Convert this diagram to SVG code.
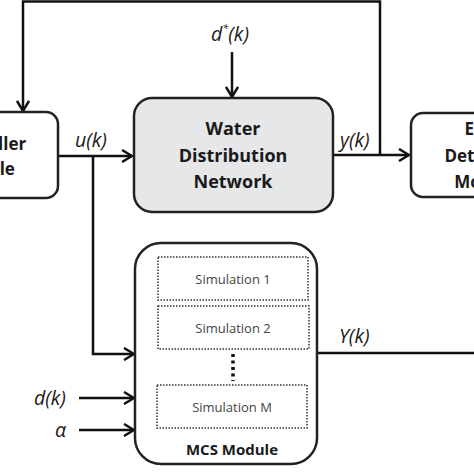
<svg xmlns="http://www.w3.org/2000/svg" width="474" height="474" viewBox="0 0 474 474">
<style>
.box{fill:#fff;stroke:#222;stroke-width:2.5}
.gray{fill:#e6e7e8}
.ln{fill:none;stroke:#111;stroke-width:2.5}
.bt{font-family:"Open Sans","Liberation Sans",sans-serif;font-weight:bold;fill:#1a1a1a;text-anchor:middle}
.it{font-family:"Open Sans","Liberation Sans",sans-serif;font-style:italic;fill:#1a1a1a;font-size:19.5px}
.sim{fill:none;stroke:#333;stroke-width:1.5;stroke-dasharray:1.5 1.5}
.st{font-family:"Open Sans","Liberation Sans",sans-serif;fill:#444;font-size:13px;text-anchor:middle}
</style>
<defs>
<marker id="ah" markerUnits="userSpaceOnUse" viewBox="0 0 12 14" refX="11" refY="7" markerWidth="12" markerHeight="14" orient="auto">
<path d="M1,1 L11,7 L1,13" fill="none" stroke="#111" stroke-width="2.5"/>
</marker>
</defs>
<rect width="474" height="474" fill="#fff"/>
<g id="connectors">
<path class="ln" d="M380,155 V1.5 H23 V111" marker-end="url(#ah)"/>
<path class="ln" d="M232,52 V97" marker-end="url(#ah)"/>
<path class="ln" d="M58,156 H132" marker-end="url(#ah)"/>
<path class="ln" d="M93,156 V354 H134" marker-end="url(#ah)"/>
<path class="ln" d="M333,155 H409" marker-end="url(#ah)"/>
<path class="ln" d="M317,353 H474"/>
<path class="ln" d="M79,398 H134" marker-end="url(#ah)"/>
<path class="ln" d="M79,430 H134" marker-end="url(#ah)"/>
</g>
<g id="labels">
<text class="it" x="211" y="41">d<tspan font-size="11" dy="-9">*</tspan><tspan dy="9">(k)</tspan></text>
<text class="it" x="75" y="147">u(k)</text>
<text class="it" x="340" y="147">y(k)</text>
<text class="it" x="339" y="343">Y(k)</text>
<text class="it" x="34" y="405">d(k)</text>
<text class="it" x="55" y="437">α</text>
</g>
<g id="controller">
<rect class="box" x="-92" y="112" width="150" height="86" rx="12"/>
<text class="bt" font-size="17" x="-17" y="150">Controller</text>
<text class="bt" font-size="17" x="-17" y="175">Module</text>
</g>
<g id="wdn">
<rect class="box gray" x="134" y="98" width="199" height="114" rx="18"/>
<text class="bt" font-size="18" x="233" y="135">Water</text>
<text class="bt" font-size="18" x="233" y="162">Distribution</text>
<text class="bt" font-size="18" x="233" y="188">Network</text>
</g>
<g id="edm">
<rect class="box" x="411" y="113" width="150" height="84" rx="12"/>
<text class="bt" font-size="17" x="486" y="135">Error</text>
<text class="bt" font-size="17" x="486" y="162">Detection</text>
<text class="bt" font-size="17" x="486" y="188">Module</text>
</g>
<g id="mcs">
<rect class="box" x="135" y="243" width="182" height="221" rx="26"/>
<text class="bt" font-size="15" x="232" y="455">MCS Module</text>
</g>
<g id="sim1">
<rect class="sim" x="158" y="257" width="150" height="43"/>
<text class="st" x="233" y="284">Simulation 1</text>
</g>
<g id="sim2">
<rect class="sim" x="158" y="306" width="151" height="43"/>
<text class="st" x="233" y="333">Simulation 2</text>
</g>
<path d="M233,354 V381" stroke="#111" stroke-width="3.5" stroke-dasharray="3 3.5" fill="none"/>
<g id="simM">
<rect class="sim" x="157" y="385" width="150" height="43"/>
<text class="st" x="232" y="412">Simulation M</text>
</g>
</svg>
